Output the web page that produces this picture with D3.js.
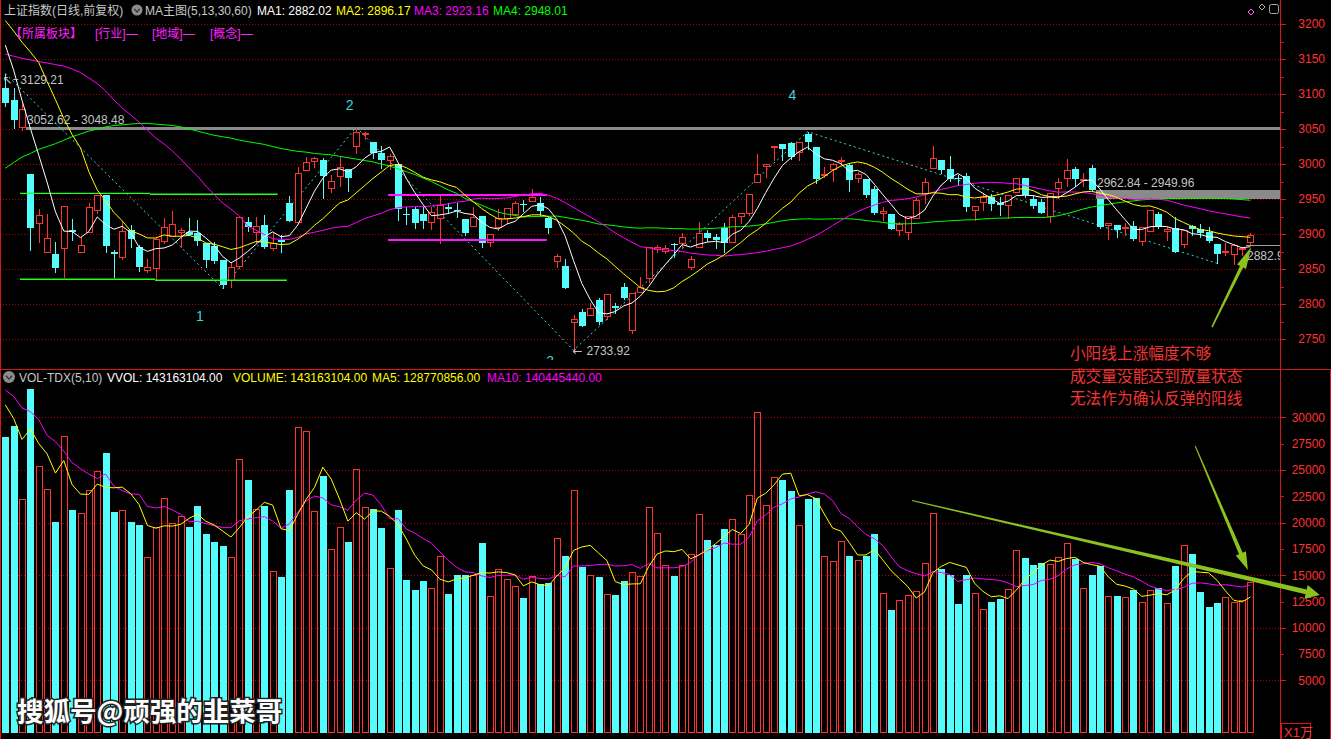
<!DOCTYPE html>
<html><head><meta charset="utf-8">
<script src="https://cdn.jsdelivr.net/npm/d3@7/dist/d3.min.js"></script>
<style>
html,body{margin:0;padding:0;background:#000;overflow:hidden}
svg{display:block;font-family:"Liberation Sans","Noto Sans CJK SC",sans-serif}
</style></head><body>
<svg id="chart" width="1331" height="739"></svg>
<script>
// ---------------- DATA ----------------
const opens=[3108.6,3091.4,3051.9,2986.1,2914.3,2872.4,2871.4,2878.1,2906.0,2872.4,
2901.9,2933.3,2955.7,2874.0,2866.1,2905.7,2881.0,2847.6,2850.4,2889.0,
2895.3,2901.9,2903.3,2901.9,2887.6,2882.9,2862.9,2833.3,2853.3,2916.7,
2901.9,2912.9,2879.0,2891.4,2943.9,2916.1,2990.4,3003.3,3005.7,2963.9,
2981.9,2992.4,3024.7,3043.5,3031.9,3016.1,3004.7,2999.6,2929.0,2935.3,
2928.6,2915.3,2921.0,2938.5,2934.5,2921.0,2909.6,2926.1,2886.7,2908.1,
2921.0,2927.1,2942.9,2946.1,2943.9,2922.4,2860.4,2854.3,2773.3,2789.0,
2782.9,2805.7,2781.0,2796.5,2823.9,2761.9,2816.1,2835.3,2877.1,2874.7,
2886.0,2885.3,2851.0,2879.6,2901.0,2896.1,2908.1,2886.7,2924.7,2928.1,
2972.4,2996.1,3023.9,3028.6,3029.6,3016.1,3042.9,3023.9,2983.3,2991.4,
3005.0,2998.6,2978.6,2978.6,2964.3,2928.6,2928.6,2904.7,2901.9,2921.0,
2956.7,2992.9,3005.7,2992.9,2980.0,2983.3,2933.3,2944.7,2952.4,2944.0,
2940.4,2958.1,2979.6,2949.6,2946.1,2923.9,2963.9,2978.1,2992.4,2976.1,
2993.9,2949.96,2911.4,2912.9,2906.7,2911.4,2889.0,2903.3,2928.6,2903.3,
2908.1,2884.3,2911.4,2906.7,2903.3,2885.7,2873.3,2870.0,2877.1,2886.7];
const highs=[3129.21,3108.0,3086.7,2986.1,2935.7,2928.6,2888.1,2939.6,2921.0,2896.1,
2943.9,2955.7,2955.7,2877.0,2917.6,2912.9,2884.3,2863.9,2896.1,2922.4,
2933.3,2908.1,2922.4,2920.0,2887.6,2889.0,2862.9,2859.0,2924.7,2924.7,
2924.7,2927.1,2901.9,2898.6,2954.3,2995.3,3009.6,3010.4,3008.0,2984.3,
3009.6,2992.4,3052.62,3046.1,3031.9,3025.7,3014.3,3001.0,2939.0,2938.1,
2939.0,2938.1,2955.7,2944.7,2943.9,2921.0,2938.1,2926.1,2899.6,2935.3,
2936.7,2947.6,2948.6,2963.9,2953.3,2924.7,2871.4,2863.9,2784.3,2792.4,
2801.0,2809.0,2813.9,2801.0,2829.6,2815.3,2838.1,2881.9,2884.3,2884.3,
2887.6,2901.0,2869.0,2917.6,2905.7,2900.0,2915.3,2927.1,2929.6,2957.1,
3014.3,3000.0,3025.7,3028.6,3031.0,3031.0,3046.1,3023.9,2995.3,3001.0,
3010.4,3001.9,2989.0,2978.6,2968.6,2938.1,2928.6,2917.0,2925.7,2951.4,
2980.0,3025.7,3005.7,3011.4,2984.3,2986.7,2940.0,2958.1,2957.1,2952.4,
2955.7,2980.4,2979.6,2954.3,2949.6,2958.1,2980.0,3006.7,2996.1,2987.6,
2998.6,2949.96,2915.3,2912.9,2915.3,2919.0,2909.6,2934.3,2931.9,2909.6,
2924.7,2905.7,2912.9,2914.3,2909.6,2885.7,2886.7,2885.7,2881.0,2901.0];
const lows=[3082.9,3051.0,3048.48,2877.1,2889.0,2872.4,2846.1,2839.0,2891.4,2872.4,
2901.9,2930.4,2874.7,2839.0,2863.9,2881.0,2847.6,2846.1,2834.3,2887.6,
2895.3,2881.9,2898.6,2884.3,2852.4,2858.1,2822.4,2824.7,2851.4,2904.7,
2889.0,2879.6,2877.1,2874.7,2918.6,2916.1,2990.4,2995.3,2951.0,2960.0,
2968.6,2961.9,3016.1,3035.3,3008.1,2993.9,2992.4,2920.0,2914.3,2909.0,
2908.6,2906.7,2887.6,2931.9,2924.7,2898.6,2909.6,2881.0,2883.3,2905.7,
2915.3,2927.1,2933.3,2946.1,2927.1,2901.9,2852.4,2822.4,2733.92,2768.6,
2782.9,2771.0,2778.1,2786.7,2806.7,2758.1,2816.1,2831.9,2874.3,2873.3,
2867.6,2881.9,2849.6,2879.6,2890.4,2879.6,2874.7,2886.7,2916.1,2927.1,
2972.4,2981.9,3005.7,3005.7,3006.7,3005.7,3021.0,2973.3,2981.9,2975.7,
3000.0,2961.4,2974.7,2952.4,2928.6,2920.0,2906.7,2898.0,2892.4,2921.0,
2943.9,2992.9,2987.6,2976.1,2970.0,2933.3,2920.0,2934.3,2934.3,2927.1,
2922.4,2958.1,2953.3,2936.7,2929.6,2917.6,2951.0,2969.0,2969.0,2969.0,
2962.84,2908.1,2892.4,2895.3,2898.6,2891.4,2884.3,2903.3,2908.1,2891.4,
2874.7,2881.9,2898.6,2896.1,2889.0,2858.1,2870.0,2857.1,2870.0,2885.7];
const closes=[3087.6,3062.9,3078.0,2908.1,2927.1,2893.9,2851.9,2939.6,2905.0,2883.9,
2938.1,2955.7,2883.3,2873.0,2904.7,2892.4,2853.3,2852.4,2892.4,2909.6,
2914.3,2905.7,2898.6,2890.4,2862.9,2861.0,2827.1,2852.4,2924.7,2910.4,
2911.4,2881.9,2886.7,2890.0,2918.6,2986.7,3002.4,3008.1,2982.9,2976.1,
2996.1,2980.4,3045.3,3044.0,3015.3,3005.7,3011.4,2935.3,2928.0,2916.1,
2919.0,2931.9,2941.4,2937.8,2933.8,2901.9,2923.9,2887.6,2899.6,2922.4,
2936.7,2943.9,2942.2,2952.4,2933.3,2908.1,2868.6,2822.4,2778.1,2768.6,
2793.9,2774.7,2813.9,2795.5,2808.1,2815.3,2823.9,2881.9,2881.0,2880.4,
2885.3,2896.1,2863.9,2901.9,2894.7,2891.4,2886.7,2923.9,2929.6,2957.1,
2985.7,3000.0,3025.7,3021.0,3010.4,3031.0,3031.9,2978.1,2985.7,3000.0,
3006.4,2977.1,2985.7,2955.7,2930.4,2932.9,2906.7,2913.9,2925.7,2948.6,
2974.7,3008.1,2991.4,2978.1,2979.3,2939.0,2940.0,2953.3,2942.4,2943.5,
2955.7,2979.6,2955.7,2940.0,2930.4,2958.1,2974.7,2991.4,2978.6,2978.6,
2962.84,2909.6,2915.3,2905.7,2909.6,2892.4,2909.6,2934.3,2909.6,2906.7,
2874.7,2905.7,2906.7,2901.9,2890.4,2871.4,2875.7,2884.3,2879.6,2898.6];
// volume in units of 10,000 (X1万)
const volumes=[28140,29180,22240,32700,25350,23190,20060,28200,21200,20880,
23100,24930,26620,21010,21170,20060,19770,16700,19610,22310,
19960,20600,19580,21580,18920,18160,17780,16700,26020,24050,
21290,21580,15370,14830,23100,29060,28680,21070,24430,17460,
19550,18160,25070,21450,21290,19490,15650,21200,14540,13590,
14450,13750,16800,13210,14990,14990,14990,18060,12990,15560,
14610,13940,12830,14890,14160,14230,18500,16830,23070,15810,
14990,14830,13180,13120,14450,15270,14890,21450,18980,15940,
14920,15940,17010,20790,18350,17870,19390,20310,18920,22590,
30480,21640,24300,24050,23000,19740,22240,22340,16800,16320,
18220,16830,16420,16830,18920,13300,11690,12610,13090,13470,
16130,20880,15590,15020,12260,14990,13280,11760,12450,12740,
13660,17370,16630,15970,16160,16060,16700,18030,16540,13750,
15020,15900,12990,13020,12900,13620,12420,13560,13750,12330,
15870,17840,17010,13400,11980,12360,12900,12450,12610,14316];
// moving-average values before a full window is available
const ma5Head=[3170,3134,3091,3051];
const ma13Head=[3205,3190,3174,3160,3145,3118,3092,3065,3042,3023,2989,2963];
const ma30Head=[3157,3154,3151,3148.6,3146.4,3144.3,3142,3140,3135.7,3130.7,3122.9,3115,3104.3,3091.4,3080,3070,3060,3048.6,3037.1,3028.6,3018.6,3007,2994.3,2982.9,2968.6,2956.4,2944.3,2935.7,2925.7];
const ma60Head=[2994,3002,3010,3015,3021,3025,3029,3034,3039,3043,3047,3050,3053,3055,3056,3057,3058,3058,3057,3056,3055,3053,3050,3047,3044,3041,3039,3037,3034,3032,3030,3028,3025,3022,3020,3018,3017,3015,3014,3013,3011,3009,3007,3005,3003,3000,2997,2993,2989,2985,2980,2975,2969,2963,2958,2951,2946,2941,2936];
const vma5Head=[31200,29900,27900,28900];
const vma10Head=[32600,32000,30900,30550,29800,28300,27700,26800,25700];

const priceTicks=[2750,2800,2850,2900,2950,3000,3050,3100,3150,3200];
const priceMinor=[2775,2825,2875,2925,2975,3025,3075,3125,3175];
const volTicks=[5000,7500,10000,12500,15000,17500,20000,22500,25000,27500,30000];
const volGrid=[5000,10000,15000,20000,25000,30000];

// wave (dashed) pivots: bar index & price
const waveIdx=[0,26,42,68,96,145];
const wavePrice=[3129.21,2822.4,3052.62,2733.92,3046.1,2858.1];
const waveLabelText=['1','2','3','4'];
const waveLabelIdx=[23.3,41.2,65.2,94.2];
const waveLabelPrice=[2783,3084,2718.5,3098.6];
// gap bands
const gapStartIdx=[2,130];
const gapHi=[3052.62,2962.84];
const gapLo=[3048.48,2949.96];
// drawn support/resistance segments
const greenFrom=[1.76,17.32,1.76,17.92], greenTo=[17.32,32.6,17.92,33.7], greenPrice=[2958.1,2956.7,2835.3,2833.9];
const magentaFrom=[45.8,45.8], magentaTo=[64.8,64.8], magentaPrice=[2955.7,2891.4];

// ---------------- SETUP ----------------
const svg=d3.select('#chart');
const W=1331,H=739,AX=1280.5;
const RED='#ff3232',CYAN='#54fcfc',GRID='#b00000',AXC='#d81818',LBL='#c4c4c4';
const x=d3.scaleLinear().domain([0,149]).range([5.3,1250.4]);
const yP=d3.scaleLinear().domain([2750,3200]).range([339,24]);
const yV=d3.scaleLinear().domain([0,30000]).range([733,417.4]);

function ma(src,n,head){return src.map((_,i)=>i<n-1?head[i]:d3.mean(src.slice(i-n+1,i+1)));}
const ma5=ma(closes,5,ma5Head),ma13=ma(closes,13,ma13Head),ma30=ma(closes,30,ma30Head),ma60=ma(closes,60,ma60Head);
const vma5=ma(volumes,5,vma5Head),vma10=ma(volumes,10,vma10Head);

svg.append('rect').attr('width',W).attr('height',H).attr('fill','#000');
const defs=svg.append('defs');
defs.append('clipPath').attr('id','cp').append('rect').attr('x',0).attr('y',18).attr('width',1280).attr('height',342);
defs.append('clipPath').attr('id','cv').append('rect').attr('x',0).attr('y',370).attr('width',1280).attr('height',369);

// grids
const grid=svg.append('g').attr('shape-rendering','crispEdges');
grid.selectAll('.gp').data(priceTicks).join('line').attr('x1',0).attr('x2',1280)
 .attr('y1',d=>Math.round(yP(d))+0.5).attr('y2',d=>Math.round(yP(d))+0.5)
 .attr('stroke',GRID).attr('stroke-dasharray','1,2');
grid.selectAll('.gv').data(volGrid).join('line').attr('x1',0).attr('x2',1280)
 .attr('y1',d=>Math.round(yV(d))+0.5).attr('y2',d=>Math.round(yV(d))+0.5)
 .attr('stroke',GRID).attr('stroke-dasharray','1,2');

// ---------------- PRICE PANEL ----------------
const P=svg.append('g').attr('clip-path','url(#cp)');
// gap bands
gapStartIdx.forEach((s,k)=>{
  P.append('rect').attr('x',Math.round(x(s))+4).attr('width',1280-Math.round(x(s))-4)
   .attr('y',yP(gapHi[k])).attr('height',Math.max(2,yP(gapLo[k])-yP(gapHi[k])))
   .attr('fill','#8a8a8a').attr('shape-rendering','crispEdges');
  P.append('text').attr('x',Math.round(x(s))+5).attr('y',yP(gapHi[k])-3)
   .attr('fill',LBL).attr('font-size',12).text(gapHi[k].toFixed(2)+' - '+gapLo[k].toFixed(2));
});
// recent low marker line
P.append('line').attr('x1',Math.round(x(148))+4).attr('x2',1280).attr('y1',Math.round(yP(2884))+0.5).attr('y2',Math.round(yP(2884))+0.5)
 .attr('stroke','#a0a0a0').attr('stroke-width',1);
P.append('text').attr('x',Math.round(x(148))+5).attr('y',yP(2884)+15).attr('fill',LBL).attr('font-size',12).text('2882.92');

// wave dashed line
const waveLine=d3.line().x(d=>x(d[0])).y(d=>yP(d[1]));
P.append('path').attr('d',waveLine(waveIdx.map((d,i)=>[d,wavePrice[i]])))
 .attr('fill','none').attr('stroke','#3ad6d6').attr('stroke-width',1).attr('stroke-dasharray','2,3');

// candles
const C=P.append('g').attr('shape-rendering','crispEdges');
closes.forEach((c,i)=>{
  const o=opens[i],h=highs[i],l=lows[i],up=c>=o,col=up?RED:CYAN;
  const cx=Math.round(x(i));
  const t=Math.round(yP(Math.max(o,c))),b=Math.round(yP(Math.min(o,c)));
  const yh=Math.round(yP(h)),yl=Math.round(yP(l));
  const g=C.append('g');
  if(up){
    if(yh<t) g.append('line').attr('x1',cx+0.5).attr('x2',cx+0.5).attr('y1',yh).attr('y2',t).attr('stroke',col);
    if(yl>b) g.append('line').attr('x1',cx+0.5).attr('x2',cx+0.5).attr('y1',b).attr('y2',yl+1).attr('stroke',col);
  } else {
    g.append('line').attr('x1',cx+0.5).attr('x2',cx+0.5).attr('y1',yh).attr('y2',yl+1).attr('stroke',col);
  }
  if(b-t<2){
    g.append('line').attr('x1',cx-3).attr('x2',cx+4).attr('y1',t+0.5).attr('y2',t+0.5).attr('stroke',col).attr('stroke-width',b-t<1?1:2);
  } else if(up){
    g.append('rect').attr('x',cx-2.5).attr('y',t+0.5).attr('width',6).attr('height',b-t-1).attr('fill','#000').attr('stroke',col);
  } else {
    g.append('rect').attr('x',cx-3).attr('y',t).attr('width',7).attr('height',b-t).attr('fill',col);
  }
});

// support / resistance lines
greenPrice.forEach((p,k)=>P.append('line').attr('x1',x(greenFrom[k])).attr('x2',x(greenTo[k]))
  .attr('y1',yP(p)).attr('y2',yP(p)).attr('stroke','#22ff22').attr('stroke-width',1.4));
magentaPrice.forEach((p,k)=>P.append('line').attr('x1',x(magentaFrom[k])).attr('x2',x(magentaTo[k]))
  .attr('y1',yP(p)).attr('y2',yP(p)).attr('stroke','#ff14ff').attr('stroke-width',2.2));

// moving averages
const lineP=d3.line().x((d,i)=>x(i)).y(d=>yP(d));
[[ma60,'#00ff00'],[ma30,'#ff00ff'],[ma13,'#ffff00'],[ma5,'#ffffff']].forEach(([s,c])=>
  P.append('path').attr('d',lineP(s)).attr('fill','none').attr('stroke',c).attr('stroke-width',1));

// wave labels
waveLabelText.forEach((t,k)=>P.append('text').attr('x',x(waveLabelIdx[k])).attr('y',yP(waveLabelPrice[k])+5)
  .attr('text-anchor','middle').attr('fill','#3ad6d6').attr('font-size',14).text(t));
// extreme labels
P.append('text').attr('x',x(0)-3).attr('y',yP(3129.21)+10).attr('fill',LBL).attr('font-size',12)
 .attr('font-family','DejaVu Sans').text('↖');
P.append('line').attr('x1',x(0)+8).attr('x2',x(0)+13).attr('y1',yP(3129.21)+6).attr('y2',yP(3129.21)+6).attr('stroke',LBL);
P.append('text').attr('x',x(0)+15).attr('y',yP(3129.21)+10).attr('fill',LBL).attr('font-size',12).text('3129.21');
P.append('text').attr('x',x(68)-1).attr('y',yP(2733.92)+5).attr('fill',LBL).attr('font-size',12)
 .attr('font-family','DejaVu Sans').text('←');
P.append('text').attr('x',x(68)+13).attr('y',yP(2733.92)+5).attr('fill',LBL).attr('font-size',12).text('2733.92');

// ---------------- VOLUME PANEL ----------------
const V=svg.append('g').attr('clip-path','url(#cv)');
const VB=V.append('g').attr('shape-rendering','crispEdges');
volumes.forEach((v,i)=>{
  const up=closes[i]>=opens[i];
  const cx=Math.round(x(i)),t=Math.round(yV(v)),b=733;
  if(up) VB.append('rect').attr('x',cx-2.5).attr('y',t+0.5).attr('width',6).attr('height',b-t-1).attr('fill','none').attr('stroke',RED);
  else VB.append('rect').attr('x',cx-3).attr('y',t).attr('width',7).attr('height',b-t).attr('fill',CYAN);
});
const lineV=d3.line().x((d,i)=>x(i)).y(d=>yV(d));
V.append('path').attr('d',lineV(vma10)).attr('fill','none').attr('stroke','#ff00ff').attr('stroke-width',1);
V.append('path').attr('d',lineV(vma5)).attr('fill','none').attr('stroke','#ffff00').attr('stroke-width',1);

// ---------------- FRAMES & AXES ----------------
const F=svg.append('g').attr('shape-rendering','crispEdges');
F.append('line').attr('x1',0).attr('x2',W).attr('y1',369.5).attr('y2',369.5).attr('stroke',AXC);
F.append('line').attr('x1',AX).attr('x2',AX).attr('y1',0).attr('y2',H).attr('stroke',AXC);
F.append('line').attr('x1',0.5).attr('x2',0.5).attr('y1',0).attr('y2',H).attr('stroke',AXC);
F.append('line').attr('x1',1330.5).attr('x2',1330.5).attr('y1',370).attr('y2',H).attr('stroke',AXC);

function styleAxis(g,withText){
  g.select('.domain').remove();
  g.selectAll('line').attr('stroke',AXC);
  g.selectAll('text').attr('x',44.5).attr('text-anchor','end').attr('fill',RED).attr('font-size',12)
    .attr('font-family','Liberation Sans');
  if(!withText) g.selectAll('text').remove();
}
const ga=svg.append('g').attr('transform',`translate(${AX},0)`).attr('shape-rendering','crispEdges')
  .call(d3.axisRight(yP).tickValues(priceTicks).tickSize(5).tickFormat(d3.format('d')));
styleAxis(ga,true);
const gm=svg.append('g').attr('transform',`translate(${AX},0)`).attr('shape-rendering','crispEdges')
  .call(d3.axisRight(yP).tickValues(priceMinor).tickSize(3).tickFormat(''));
styleAxis(gm,false);
const gv=svg.append('g').attr('transform',`translate(${AX},0)`).attr('shape-rendering','crispEdges')
  .call(d3.axisRight(yV).tickValues(volTicks).tickSize(3).tickFormat(d3.format('d')));
styleAxis(gv,true);
const gv2=svg.append('g').attr('transform',`translate(${AX},0)`).attr('shape-rendering','crispEdges')
  .call(d3.axisRight(yV).tickValues(volGrid).tickSize(5).tickFormat(''));
styleAxis(gv2,false);
F.append('rect').attr('x',1281.5).attr('y',723.5).attr('width',29).attr('height',16).attr('fill','none').attr('stroke',AXC);
svg.append('text').attr('x',1284).attr('y',737).attr('fill',RED).attr('font-size',13).text('X1万');

// ---------------- HEADERS ----------------
function icon(cx,cy,r){
  svg.append('circle').attr('cx',cx).attr('cy',cy).attr('r',r).attr('fill','#8c8c8c');
  svg.append('path').attr('d',`M${cx-r*0.5},${cy-r*0.2} L${cx},${cy+r*0.35} L${cx+r*0.5},${cy-r*0.2}`)
    .attr('fill','none').attr('stroke','#333').attr('stroke-width',1.3);
}
const hdr=[['上证指数(日线,前复权)',4,'#c8c8c8'],['MA主图(5,13,30,60)',145,'#c8c8c8'],['MA1: 2882.02',257,'#ffffff'],
 ['MA2: 2896.17',336,'#ffff00'],['MA3: 2923.16',414,'#ff00ff'],['MA4: 2948.01',493,'#00ff00']];
hdr.forEach(([t,xx,c])=>svg.append('text').attr('x',xx).attr('y',15).attr('fill',c).attr('font-size',12).text(t));
icon(137,10,5.5);
const row2=[['【所属板块】',10],['[行业]—',95],['[地域]—',152],['[概念]—',210]];
row2.forEach(([t,xx])=>svg.append('text').attr('x',xx).attr('y',38).attr('fill','#ff22ff').attr('font-size',12).text(t));
const vh=[['VOL-TDX(5,10)',19,'#c8c8c8'],['VVOL: 143163104.00',107,'#ffffff'],['VOLUME: 143163104.00',233,'#ffff00'],
 ['MA5: 128770856.00',372,'#ffff00'],['MA10: 140445440.00',487,'#ff00ff']];
vh.forEach(([t,xx,c])=>svg.append('text').attr('x',xx).attr('y',382).attr('fill',c).attr('font-size',12).text(t));
icon(9,377,6);
// top-right small icons
svg.append('path').attr('d','M1251,9 l3,3 l-3,3 l-3,-3 z').attr('fill','none').attr('stroke','#ff66ff');
svg.append('path').attr('d','M1262,4 l3,3 l-3,3 l-3,-3 z').attr('fill','none').attr('stroke','#aaaaaa');
svg.append('rect').attr('x',1269.5).attr('y',4.5).attr('width',9).attr('height',9).attr('rx',2).attr('fill','none').attr('stroke','#aaaaaa');

// ---------------- ANNOTATIONS ----------------
const noteLines=['小阳线上涨幅度不够','成交量没能达到放量状态','无法作为确认反弹的阳线'];
noteLines.forEach((t,k)=>svg.append('text').attr('x',x(127.4)).attr('y',359+k*22.5)
  .attr('fill','#f03434').attr('font-size',15.7).attr('font-family','Noto Sans CJK SC').text(t));

function arrow(x0,y0,x1,y1,w0,w1,hl,hw,color){
  const dx=x1-x0,dy=y1-y0,L=Math.hypot(dx,dy),ux=dx/L,uy=dy/L,nx=-uy,ny=ux;
  const bx=x1-ux*hl,by=y1-uy*hl;
  const pts=[[x0+nx*w0/2,y0+ny*w0/2],[bx+nx*w1/2,by+ny*w1/2],[bx+nx*hw,by+ny*hw],[x1,y1],
    [bx-nx*hw,by-ny*hw],[bx-nx*w1/2,by-ny*w1/2],[x0-nx*w0/2,y0-ny*w0/2]];
  svg.append('polygon').attr('points',pts.map(p=>p.join(',')).join(' ')).attr('fill',color);
}
const AG='#8cc21e';
arrow(x(144.4),yP(2767),x(149.1),yP(2881.4),1.5,3.5,22,5,AG);
arrow(x(142.4),yV(27280),x(148.7),yV(15490),1,4,18,5.5,AG);
arrow(x(108.5),yV(22100),x(157.3),yV(13120),1.2,5,14,7,AG);

// watermark
svg.append('text').attr('x',17).attr('y',721).attr('font-size',26.5).attr('font-weight','bold')
 .attr('font-family','Noto Sans CJK SC').attr('fill','#ffffff').attr('stroke','#222').attr('stroke-width',3)
 .attr('paint-order','stroke').text('搜狐号@顽强的韭菜哥');
</script></body></html>
